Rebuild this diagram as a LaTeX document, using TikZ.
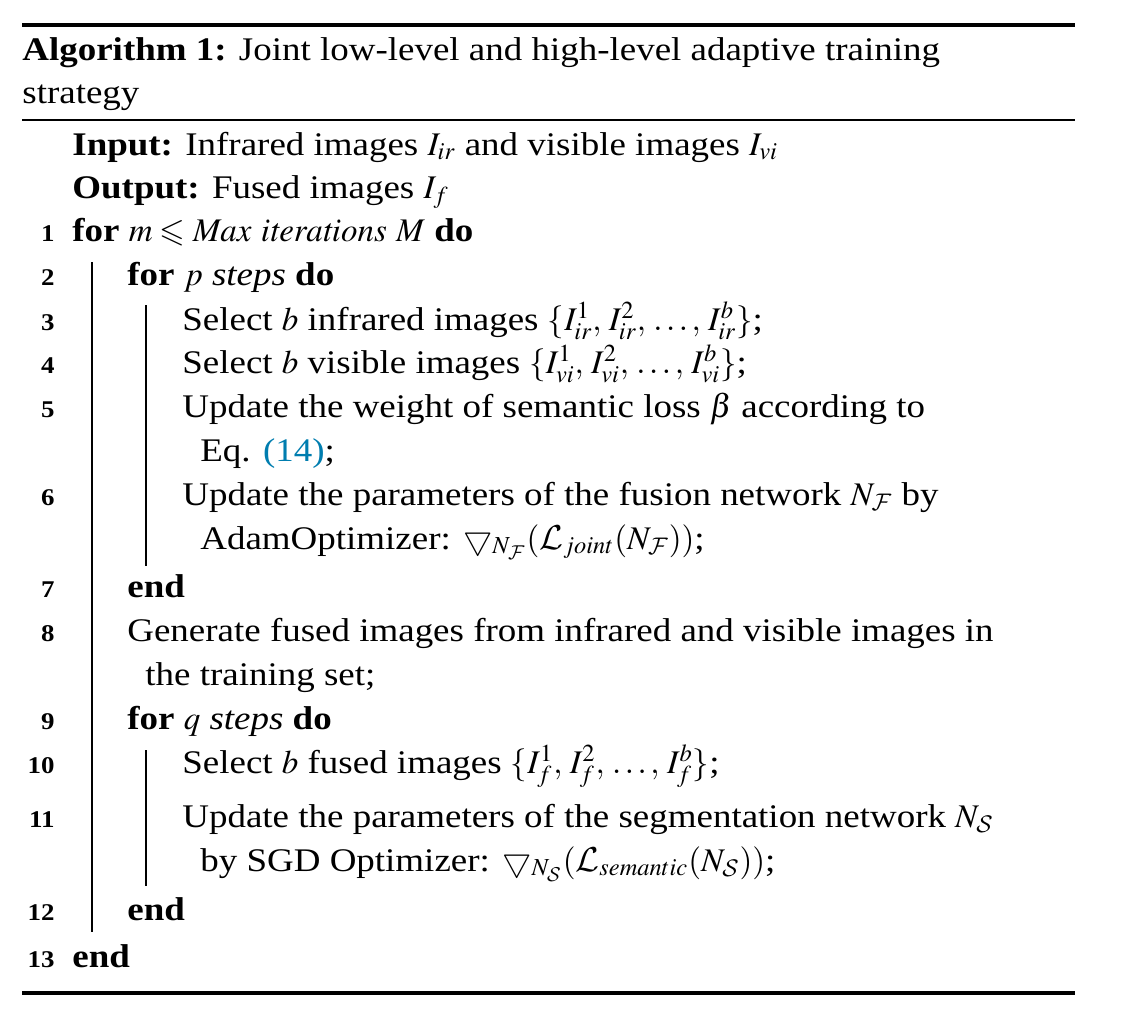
\documentclass[tikz,border=0pt]{standalone}
\usepackage{amssymb}
\usepackage{mathptmx}
\usepackage{fontspec}
\setmainfont{Liberation Serif}[FakeStretch=1.12]
\DeclareMathAlphabet{\mathcalx}{OMS}{cmsy}{m}{n}
\definecolor{refblue}{RGB}{0,125,175}
\begin{document}
\begin{tikzpicture}[x=0.5pt,y=-0.5pt,
  t/.style={anchor=base west,inner sep=0pt,font=\fontsize{16.5}{18}\selectfont},
  n/.style={anchor=base east,inner sep=0pt,font=\fontsize{12}{14}\selectfont\bfseries},
  bar/.style={line width=0.8pt}]
\useasboundingbox (0,0) rectangle (1122,1017);
\draw[line width=1.6pt] (22,25) -- (1075,25);
\draw[line width=1.1pt] (22,120) -- (1075,120);
\draw[line width=1.6pt] (22,993) -- (1075,993);
\node[t] (ti1) at (22,60) {\textbf{Algorithm 1:} Joint low-level and high-level adaptive training};
\node[t] (ti2) at (22,103) {strategy};
\node[t] (in) at (72,155) {\textbf{Input:} Infrared images $I_{ir}$ and visible images $I_{vi}$};
\node[t] (out) at (72,198) {\textbf{Output:} Fused images $I_f$};
\node[n] (n1) at (55,241) {1};
\node[t] (l1) at (72,241) {\textbf{for} $m \leqslant \mathit{Max\ iterations\ M}$ \textbf{do}};
\node[n] (n2) at (55,285) {2};
\node[t] (l2) at (127,285) {\textbf{for} $p$ \textit{steps} \textbf{do}};
\node[n] (n3) at (55,330) {3};
\node[t] (l3) at (182,330) {Select $b$ infrared images $\{I_{ir}^1,\, I_{ir}^2,\, \ldots,\, I_{ir}^b\}$;};
\node[n] (n4) at (55,373) {4};
\node[t] (l4) at (182,373) {Select $b$ visible images $\{I_{vi}^1,\, I_{vi}^2,\, \ldots,\, I_{vi}^b\}$;};
\node[n] (n5) at (55,417) {5};
\node[t] (l5) at (182,417) {Update the weight of semantic loss $\beta$ according to};
\node[t] (l5b) at (200,461) {Eq. \textcolor{refblue}{(14)};};
\node[n] (n6) at (55,505) {6};
\node[t] (l6) at (182,505) {Update the parameters of the fusion network $N_{\mathcalx{F}}$ by};
\node[t] (l6b) at (200,549) {AdamOptimizer: $\bigtriangledown_{N_{\mathcalx{F}}}(\mathcalx{L}_{joint}(N_{\mathcalx{F}}))$;};
\node[n] (n7) at (55,597) {7};
\node[t] (l7) at (127,597) {\textbf{end}};
\node[n] (n8) at (55,641) {8};
\node[t] (l8) at (127,641) {Generate fused images from infrared and visible images in};
\node[t] (l8b) at (145,685) {the training set;};
\node[n] (n9) at (55,729) {9};
\node[t] (l9) at (127,729) {\textbf{for} $q$ \textit{steps} \textbf{do}};
\node[n] (n10) at (55,773) {10};
\node[t] (l10) at (182,773) {Select $b$ fused images $\{I_f^1,\, I_f^2,\, \ldots,\, I_f^b\}$;};
\node[n] (n11) at (55,827) {11};
\node[t] (l11) at (182,827) {Update the parameters of the segmentation network $N_{\mathcalx{S}}$};
\node[t] (l11b) at (200,871) {by SGD Optimizer: $\bigtriangledown_{N_{\mathcalx{S}}}(\mathcalx{L}_{semantic}(N_{\mathcalx{S}}))$;};
\node[n] (n12) at (55,920) {12};
\node[t] (l12) at (127,920) {\textbf{end}};
\node[n] (n13) at (55,967) {13};
\node[t] (l13) at (72,967) {\textbf{end}};
\draw[bar] (92,262) -- (92,932);
\draw[bar] (146,305) -- (146,566);
\draw[bar] (146,750) -- (146,886);
\end{tikzpicture}
\end{document}
